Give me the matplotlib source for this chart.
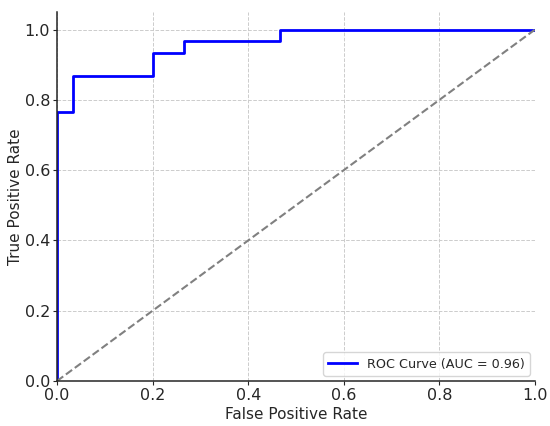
import matplotlib
matplotlib.use("Agg")
import matplotlib.pyplot as plt
import numpy as np

fpr = [0.0, 0.0, 1/30, 1/30, 6/30, 6/30, 8/30, 8/30, 14/30, 14/30, 1.0]
tpr = [0.0, 23/30, 23/30, 26/30, 26/30, 28/30, 28/30, 29/30, 29/30, 1.0, 1.0]
auc_label = "ROC Curve (AUC = 0.96)"

ink = "#262626"
fig = plt.figure(figsize=(5.5, 4.26), dpi=100)
ax = fig.add_axes([57/550, 45/426, 478/550, 369/426])

ax.plot(fpr, tpr, color="blue", lw=2, label=auc_label)
ax.plot([0, 1], [0, 1], color="gray", lw=1.5, ls="--")

ax.set_xlim(0, 1)
ax.set_ylim(0, 1.05)
ax.set_xticks(np.arange(0, 1.01, 0.2))
ax.set_yticks(np.arange(0, 1.01, 0.2))
ax.grid(True, ls="--", color="#cccccc", lw=0.7)
for s in ["top", "right"]:
    ax.spines[s].set_visible(False)
for s in ["left", "bottom"]:
    ax.spines[s].set_color(ink)
    ax.spines[s].set_linewidth(1.1)
ax.tick_params(labelsize=11.5, colors=ink, length=3, pad=2)
ax.set_xlabel("False Positive Rate", fontsize=11, color=ink, labelpad=3)
ax.set_ylabel("True Positive Rate", fontsize=11, color=ink, labelpad=1)
leg = ax.legend(loc="lower right", fontsize=9.2, handlelength=2.2,
                borderaxespad=0.42)
for t in leg.get_texts():
    t.set_color(ink)

fig.savefig("out.png", dpi=100)
